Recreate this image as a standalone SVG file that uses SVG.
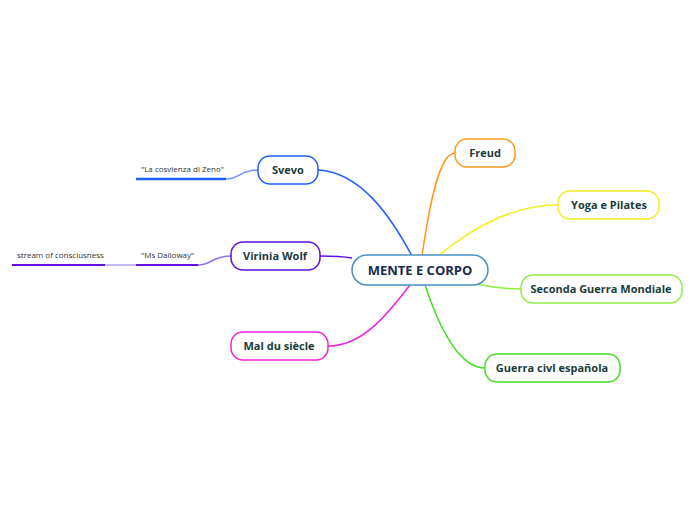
<svg xmlns="http://www.w3.org/2000/svg" width="696" height="520" viewBox="0 0 696 520">
<style>
.n{fill:#fff;stroke-width:1.5}
.t{font-family:"Open Sans","Noto Sans",sans-serif;font-weight:bold;font-size:11px;fill:#1a3b3a;text-anchor:middle}
.s{font-family:"Open Sans","Noto Sans",sans-serif;font-size:8px;fill:#333}
.c{fill:none;stroke-width:1.5}
</style>
<g id="connectors">
<path class="c" d="M412,256 C390,215 360,172 318,170" stroke="#1f5fff" stroke-width="2"/>
<path class="c" d="M422,256 C430,200 440,153 455,153" stroke="#ff9a1f" stroke-width="2"/>
<path class="c" d="M438,256 C470,230 510,205 558,205" stroke="#f0f020"/>
<path class="c" d="M476,284 C495,288 505,289 521,289" stroke="#90f040"/>
<path class="c" d="M425,285 C440,330 460,368 485,368" stroke="#40e020" stroke-width="2"/>
<path class="c" d="M352,258 C340,256 330,256 320,256" stroke="#6010e0"/>
<path class="c" d="M410,285 C390,310 365,346 328,346" stroke="#f020e0"/>
<path class="c" d="M258,170 C240,170 240,179 226,179" stroke="#7090ff" stroke-width="1"/>
<path d="M136,179 H226" stroke="#1f5fff" stroke-width="2.5"/>
<path class="c" d="M231,256 C212,256 212,265 198,265" stroke="#9070f0" stroke-width="1"/>
<path d="M136,265 H198" stroke="#6010e0" stroke-width="2"/>
<path d="M105,265 H136" stroke="#b0a0f0" stroke-width="1.5"/>
<path d="M12,265 H105" stroke="#6010e0" stroke-width="2"/>
</g>
<g id="center"><rect class="n" x="352" y="255" width="136" height="30" rx="15" stroke="#4a90c8"/><text class="t" x="420" y="275" style="font-size:13px;fill:#1a2a50">MENTE E CORPO</text></g>
<g id="freud"><rect class="n" x="455" y="139" width="60" height="28" rx="12" stroke="#ff9a1f"/><text class="t" x="485" y="157">Freud</text></g>
<g id="yoga"><rect class="n" x="558" y="191" width="101" height="28" rx="12" stroke="#f0f020"/><text class="t" x="609" y="209">Yoga e Pilates</text></g>
<g id="seconda"><rect class="n" x="521" y="275" width="161" height="28" rx="12" stroke="#90f040"/><text class="t" x="601" y="293">Seconda Guerra Mondiale</text></g>
<g id="guerra"><rect class="n" x="485" y="354" width="135" height="28" rx="12" stroke="#40e020"/><text class="t" x="552" y="372">Guerra civl española</text></g>
<g id="svevo"><rect class="n" x="258" y="156" width="60" height="28" rx="12" stroke="#1f5fff"/><text class="t" x="288" y="174">Svevo</text></g>
<g id="virinia"><rect class="n" x="231" y="242" width="89" height="28" rx="12" stroke="#6010e0"/><text class="t" x="275" y="260">Virinia Wolf</text></g>
<g id="mal"><rect class="n" x="231" y="332" width="97" height="28" rx="12" stroke="#f020e0"/><text class="t" x="279" y="350">Mal du siècle</text></g>
<g id="zeno"><text class="s" x="141" y="172">"La cosvienza di Zeno"</text></g>
<g id="dalloway"><text class="s" x="141" y="258">"Ms Dalloway"</text></g>
<g id="stream"><text class="s" x="17" y="258">stream of consciusness</text></g>
</svg>
